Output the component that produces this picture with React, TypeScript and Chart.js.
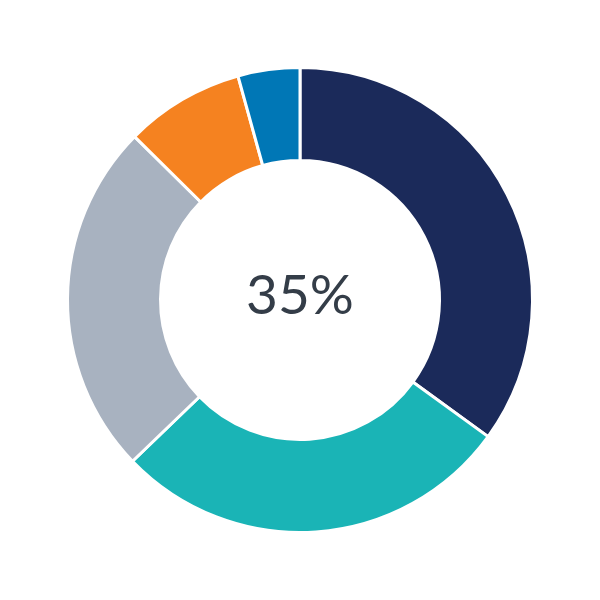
import React, { useEffect, useRef } from "react";
import { Chart, ArcElement, DoughnutController, Plugin } from "chart.js";

Chart.register(ArcElement, DoughnutController);

const labels = ["Segment A", "Segment B", "Segment C", "Segment D", "Segment E"];
const values = [35, 27.8, 24.6, 8.3, 4.3];
const colors = ["#1b2a5a", "#1ab4b6", "#a8b2c0", "#f58220", "#0077b6"];
const centerLabel = "35%";

const centerText: Plugin<"doughnut"> = {
  id: "centerText",
  afterDraw(chart) {
    const arc = chart.getDatasetMeta(0).data[0] as any;
    if (!arc) return;
    const { ctx } = chart;
    ctx.save();
    ctx.font = "400 55px Lato, 'Open Sans', sans-serif";
    ctx.fillStyle = "#343d48";
    ctx.textAlign = "center";
    ctx.textBaseline = "middle";
    ctx.fillText(centerLabel, arc.x, arc.y - 4);
    ctx.restore();
  },
};

const DoughnutChart = () => {
  const chartRef = useRef<HTMLCanvasElement | null>(null);
  useEffect(() => {
    let chartInstance: Chart<"doughnut"> | null = null;
    if (chartRef.current) {
      const context = chartRef.current.getContext("2d");
      if (context) {
        chartInstance = new Chart(context, {
          type: "doughnut",
          data: {
            labels,
            datasets: [
              {
                data: values,
                backgroundColor: colors,
                borderColor: "#ffffff",
                borderWidth: 3,
                hoverOffset: 0,
              },
            ],
          },
          options: {
            responsive: false,
            animation: false,
            cutout: "60%",
            layout: { padding: 66 },
            plugins: { legend: { display: false }, tooltip: { enabled: false } },
          },
          plugins: [centerText],
        });
      }
    }
    return () => {
      if (chartInstance) {
        chartInstance.destroy();
      }
    };
  }, []);

  return <canvas ref={chartRef} width={600} height={600} />;
};

export default function App() {
  useEffect(() => {
    document.body.style.margin = "0";
  }, []);
  return (
    <div style={{ width: 600, height: 600, background: "#ffffff" }}>
      <DoughnutChart />
    </div>
  );
}
